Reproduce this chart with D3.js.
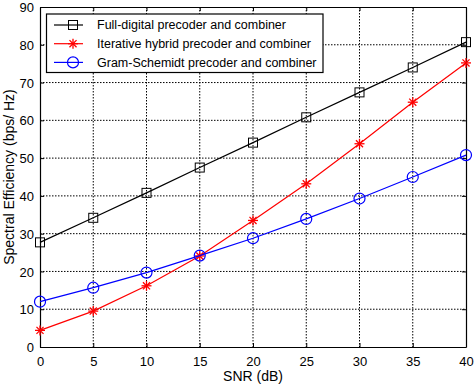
<!DOCTYPE html>
<html><head><meta charset="utf-8">
<script src="https://d3js.org/d3.v7.min.js"></script>
<style>body{margin:0;background:#fff}svg{display:block}text{font-family:"Liberation Sans",Arial,sans-serif}</style>
</head><body>
<script>
const snr = [0,5,10,15,20,25,30,35,40];
const fullDigital = [27.7,34.2,40.8,47.5,54.1,60.8,67.4,74.0,80.7];
const iterative = [4.4,9.5,16.2,24.1,33.5,43.2,53.8,64.8,75.2];
const gramSchmidt = [12.0,15.7,19.7,24.2,28.8,33.9,39.3,45.0,50.8];
const xTicks = [0,5,10,15,20,25,30,35,40];
const yTicks = [0,10,20,30,40,50,60,70,80,90];
const seriesNames = ["Full-digital precoder and combiner","Iterative hybrid precoder and combiner","Gram-Schemidt precoder and combiner"];
const seriesColors = ["#000000","#ff0000","#0000ff"];
const seriesMarkers = ["square","star","circle"];

const W=474,H=387, L=40,R=466,T=7,B=347;
const svg=d3.select("body").append("svg").attr("width",W).attr("height",H);
const x=d3.scaleLinear().domain([0,40]).range([L,R]);
const y=d3.scaleLinear().domain([0,90]).range([B,T]);

// grid
const g=svg.append("g");
xTicks.forEach(t=>{ if(t>0&&t<40) g.append("line").attr("x1",x(t)).attr("x2",x(t)).attr("y1",T).attr("y2",B).attr("stroke","#000").attr("stroke-width",1).attr("stroke-dasharray","1.5,1.5");});
yTicks.forEach(t=>{ if(t>0&&t<90) g.append("line").attr("y1",y(t)).attr("y2",y(t)).attr("x1",L).attr("x2",R).attr("stroke","#000").attr("stroke-width",1).attr("stroke-dasharray","1.5,1.5");});

// axes
const ax=svg.append("g").attr("transform",`translate(0,${B})`).call(d3.axisBottom(x).tickValues(xTicks).tickSizeInner(-4).tickSizeOuter(0).tickPadding(10));
const ay=svg.append("g").attr("transform",`translate(${L},0)`).call(d3.axisLeft(y).tickValues(yTicks).tickSizeInner(-4).tickSizeOuter(0).tickPadding(6));
const axT=svg.append("g").attr("transform",`translate(0,${T})`).call(d3.axisTop(x).tickValues(xTicks).tickSizeInner(-4).tickSizeOuter(0).tickFormat(""));
const ayR=svg.append("g").attr("transform",`translate(${R},0)`).call(d3.axisRight(y).tickValues(yTicks).tickSizeInner(-4).tickSizeOuter(0).tickFormat(""));
[ax,ay,axT,ayR].forEach(a=>{a.selectAll("path").attr("stroke","#000").attr("stroke-width",1.2);a.selectAll("line").attr("stroke","#000");a.selectAll("text").attr("font-size",13).attr("fill","#000").attr("font-family","Liberation Sans, Arial, sans-serif");});
ay.selectAll("text").attr("dy","0.35em");

// labels
svg.append("text").attr("x",(L+R)/2).attr("y",381).attr("text-anchor","middle").attr("font-size",14).text("SNR (dB)");
svg.append("text").attr("transform",`translate(14,${(T+B)/2}) rotate(-90)`).attr("text-anchor","middle").attr("font-size",14).text("Spectral Efficiency (bps/ Hz)");

function marker(sel,type,color,cx,cy){
  if(type==="square") sel.append("rect").attr("x",cx-4.5).attr("y",cy-4.5).attr("width",9).attr("height",9).attr("fill","none").attr("stroke",color).attr("stroke-width",1);
  else if(type==="circle") sel.append("circle").attr("cx",cx).attr("cy",cy).attr("r",5.5).attr("fill","none").attr("stroke",color).attr("stroke-width",1.2);
  else { const r=5; [0,45,90,135].forEach(a=>{const rad=a*Math.PI/180; sel.append("line").attr("x1",cx-r*Math.cos(rad)).attr("y1",cy-r*Math.sin(rad)).attr("x2",cx+r*Math.cos(rad)).attr("y2",cy+r*Math.sin(rad)).attr("stroke",color).attr("stroke-width",1.3);}); }
}

const allData=[fullDigital,iterative,gramSchmidt];
const line=d3.line().x(d=>x(d[0])).y(d=>y(d[1]));
allData.forEach((vals,i)=>{
  const pts=snr.map((s,j)=>[s,vals[j]]);
  const sg=svg.append("g");
  sg.append("path").attr("d",line(pts)).attr("fill","none").attr("stroke",seriesColors[i]).attr("stroke-width",1.2);
  pts.forEach(p=>marker(sg,seriesMarkers[i],seriesColors[i],x(p[0]),y(p[1])));
});

// legend
const lg=svg.append("g");
lg.append("rect").attr("x",46.5).attr("y",14).attr("width",276.5).attr("height",58.5).attr("fill","#fff").attr("stroke","#000").attr("stroke-width",1.2);
seriesNames.forEach((n,i)=>{
  const ly=25+i*18.7;
  lg.append("line").attr("x1",54).attr("x2",83).attr("y1",ly).attr("y2",ly).attr("stroke",seriesColors[i]).attr("stroke-width",1.2);
  marker(lg,seriesMarkers[i],seriesColors[i],73,ly);
  lg.append("text").attr("x",97).attr("y",ly).attr("dy","0.35em").attr("font-size",12.5).text(n);
});
</script>
</body></html>
